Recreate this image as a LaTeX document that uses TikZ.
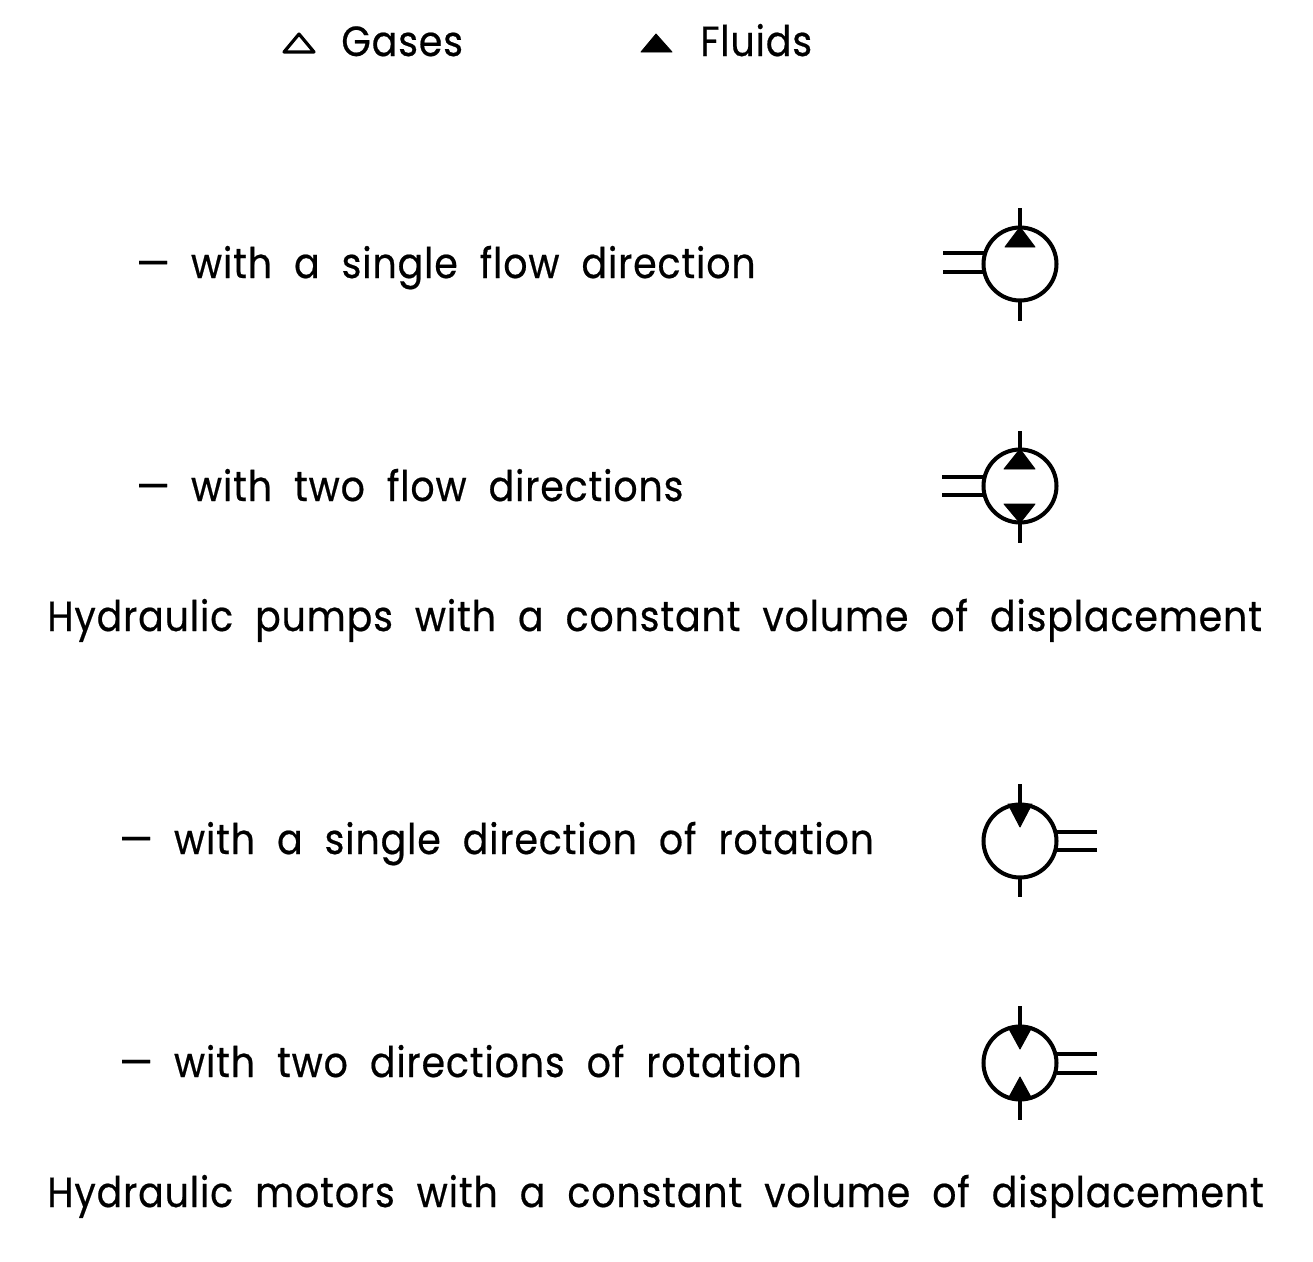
\documentclass[tikz,border=0pt]{standalone}
\usepackage{fontspec}
\setmainfont[FakeStretch=0.9,FakeBold=0.5,LetterSpace=2,WordSpace=2.0]{Poppins}
\begin{document}
\begin{tikzpicture}[x=0.02cm, y=-0.02cm]
    \tikzstyle label=[anchor=base west,inner sep=0pt,font=\fontsize{24}{28}\selectfont]
    \tikzstyle casing=[draw,circle,line width=2.3pt,minimum size=1.46cm,inner sep=0pt,outer sep=0pt]
    \tikzstyle stem=[line width=2.2pt]
    \tikzstyle pipe=[line width=2.2pt]
    \tikzstyle solid tri=[fill=black,draw=black,line width=0.5pt,line join=round]
    \tikzstyle open tri=[draw=black,line width=1.8pt,line join=round]
    \useasboundingbox (0,0) rectangle (1313,1262);
    % legend
    \draw[open tri] (284,52) -- (299,34) -- (314,52) -- cycle;
    \node[label] (gases) at (341,56) {Gases};
    \draw[solid tri] (641,52) -- (656,34) -- (672,52) -- cycle;
    \node[label] (fluids) at (700,56) {Fluids};
    % pumps
    \node[label] (pumpone) at (136,278) {—\hspace{-0.5pt} with a single flow direction};
    \node[casing] (casingA) at (1020,264) {};
    \coordinate (inA) at (1020,208);
    \coordinate (outA) at (1020,321);
    \draw[stem] (inA) -- (casingA.north);
    \draw[stem] (casingA.south) -- (outA);
    \draw[solid tri] (1005,247) -- (1020,227) -- (1035,247) -- cycle;
    \coordinate (pipeAa) at (943,253);
    \coordinate (pipeAb) at (943,272);
    \draw[pipe] (pipeAa) -- (pipeAa -| casingA.west);
    \draw[pipe] (pipeAb) -- (pipeAb -| casingA.west);
    \node[label] (pumptwo) at (136,501) {—\hspace{-0.5pt} with two flow directions};
    \node[casing] (casingB) at (1020,486) {};
    \coordinate (inB) at (1020,431);
    \coordinate (outB) at (1020,543);
    \draw[stem] (inB) -- (casingB.north);
    \draw[stem] (casingB.south) -- (outB);
    \draw[solid tri] (1004,469) -- (1020,449) -- (1035,469) -- cycle;
    \draw[solid tri] (1004,504) -- (1020,523) -- (1035,504) -- cycle;
    \coordinate (pipeBa) at (942,477);
    \coordinate (pipeBb) at (942,495);
    \draw[pipe] (pipeBa) -- (pipeBa -| casingB.west);
    \draw[pipe] (pipeBb) -- (pipeBb -| casingB.west);
    \node[label] (pumps) at (47,631) {Hydraulic pumps with a constant volume of displacement};
    % motors
    \node[label] (motorone) at (119,854) {—\hspace{-0.5pt} with a single direction of rotation};
    \node[casing] (casingC) at (1020,841) {};
    \coordinate (inC) at (1020,784);
    \coordinate (outC) at (1020,897);
    \draw[stem] (inC) -- (casingC.north);
    \draw[stem] (casingC.south) -- (outC);
    \draw[solid tri] (1008,804) -- (1020,827) -- (1032,804) -- cycle;
    \coordinate (pipeCa) at (1097,832);
    \coordinate (pipeCb) at (1097,850);
    \draw[pipe] (pipeCa) -- (pipeCa -| casingC.east);
    \draw[pipe] (pipeCb) -- (pipeCb -| casingC.east);
    \node[label] (motortwo) at (119,1077) {—\hspace{-0.5pt} with two directions of rotation};
    \node[casing] (casingD) at (1020,1063) {};
    \coordinate (inD) at (1020,1006);
    \coordinate (outD) at (1020,1120);
    \draw[stem] (inD) -- (casingD.north);
    \draw[stem] (casingD.south) -- (outD);
    \draw[solid tri] (1008,1027) -- (1020,1049) -- (1032,1027) -- cycle;
    \draw[solid tri] (1008,1099) -- (1020,1077) -- (1032,1099) -- cycle;
    \coordinate (pipeDa) at (1097,1054);
    \coordinate (pipeDb) at (1097,1073);
    \draw[pipe] (pipeDa) -- (pipeDa -| casingD.east);
    \draw[pipe] (pipeDb) -- (pipeDb -| casingD.east);
    \node[label] (motors) at (47,1207) {Hydraulic motors with a constant volume of displacement};
\end{tikzpicture}
\end{document}
